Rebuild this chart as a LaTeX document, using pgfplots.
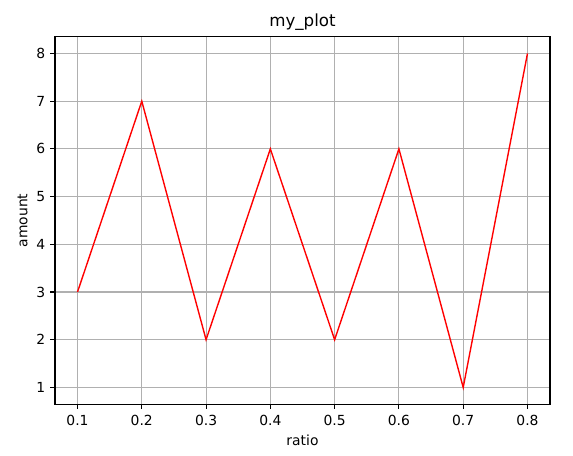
\documentclass[border=0pt]{standalone}
\usepackage{fontspec}
\setmainfont{DejaVu Sans}
\usepackage{pgfplots}
\pgfplotsset{compat=1.18}
\definecolor{gridgray}{RGB}{176,176,176}
\begin{document}
\begin{tikzpicture}
\path[use as bounding box] (-39.6pt,-37.3pt) rectangle (372.96pt,290.98pt);
\begin{axis}[
    at={(0pt,0pt)}, anchor=south west,
    scale only axis,
    width=356.4pt, height=264.5pt,
    xmin=0.065, xmax=0.835,
    ymin=0.65, ymax=8.35,
    xtick={0.1,0.2,0.3,0.4,0.5,0.6,0.7,0.8},
    xticklabels={0.1,0.2,0.3,0.4,0.5,0.6,0.7,0.8},
    ytick={1,2,3,4,5,6,7,8},
    tick pos=left,
    tick align=outside,
    major tick length=3.5pt,
    tick style={black, line width=0.8pt},
    axis line style={black, line width=0.8pt},
    grid=major,
    major grid style={gridgray, line width=0.8pt},
    /pgf/number format/assume math mode=true,
    tick label style={font=\fontsize{10}{12}\selectfont},
    xticklabel style={yshift=-1pt},
    xlabel={ratio},
    ylabel={amount},
    title={my\_plot},
    every axis title shift=0pt,
    label style={font=\fontsize{10}{12}\selectfont},
    xlabel style={at={(axis description cs:0.5,0)}, anchor=center, yshift=-26.1pt},
    ylabel style={at={(axis description cs:0,0.5)}, anchor=center, yshift=23.4pt},
    title style={font=\fontsize{12}{14}\selectfont, at={(axis description cs:0.5,1)}, anchor=center, yshift=10.3pt},
]
\addplot[red, line width=1pt, mark=none] coordinates {
    (0.1,3) (0.2,7) (0.3,2) (0.4,6) (0.5,2) (0.6,6) (0.7,1) (0.8,8)
};
\end{axis}
\end{tikzpicture}
\end{document}
